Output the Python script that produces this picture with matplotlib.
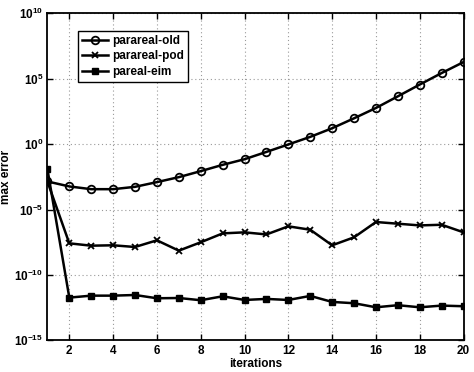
import matplotlib
matplotlib.use("Agg")
import matplotlib.pyplot as plt
import numpy as np
from matplotlib.ticker import FixedLocator, NullLocator

plt.rcParams['font.family'] = ['Liberation Sans', 'DejaVu Sans']
plt.rcParams['font.weight'] = 'bold'

iterations = list(range(1, 21))
log_old = [-2.85, -3.23, -3.44, -3.44, -3.26, -2.90, -2.52, -2.06, -1.58, -1.15,
           -0.59, -0.02, 0.56, 1.22, 1.98, 2.77, 3.66, 4.56, 5.44, 6.28]
log_pod = [-2.85, -7.58, -7.76, -7.73, -7.86, -7.35, -8.14, -7.50, -6.82, -6.74,
           -6.90, -6.28, -6.54, -7.73, -7.12, -5.95, -6.08, -6.21, -6.16, -6.74]
log_eim = [-1.90, -11.73, -11.58, -11.58, -11.53, -11.78, -11.76, -11.93, -11.63, -11.91,
           -11.83, -11.91, -11.60, -12.06, -12.16, -12.47, -12.31, -12.47, -12.34, -12.39]
labels = ['parareal-old', 'parareal-pod', 'pareal-eim']

old = 10.0 ** np.array(log_old)
pod = 10.0 ** np.array(log_pod)
eim = 10.0 ** np.array(log_eim)

fig = plt.figure(figsize=(4.74, 3.72), dpi=100)
ax = fig.add_axes([0.100, 0.085, 0.878, 0.879])

ax.plot(iterations, old, '-o', color='black', lw=1.8, ms=5.5, mfc='none', mew=1.3, label=labels[0])
ax.plot(iterations, pod, '-x', color='black', lw=1.8, ms=4, mew=1.3, label=labels[1])
ax.plot(iterations, eim, '-s', color='black', lw=1.8, ms=4.5, mfc='black', mew=1.0, label=labels[2])

ax.set_yscale('log')
ax.set_xlim(1, 20)
ax.set_ylim(1e-15, 1e10)
ax.yaxis.set_major_locator(FixedLocator([1e-15, 1e-10, 1e-5, 1e0, 1e5, 1e10]))
ax.yaxis.set_minor_locator(NullLocator())
ax.set_xticks([2, 4, 6, 8, 10, 12, 14, 16, 18, 20])

ax.grid(True, which='major', linestyle=(0, (1, 2.5)), color='#999999', lw=0.8)
ax.tick_params(direction='in', labelsize=8.5, width=1, length=4, top=True, right=True, pad=3)
for lbl in ax.get_xticklabels() + ax.get_yticklabels():
    lbl.set_fontweight('bold')
for s in ax.spines.values():
    s.set_linewidth(1.3)

ax.set_xlabel('iterations', fontsize=8.5, fontweight='bold', labelpad=1)
ax.set_ylabel('max error', fontsize=8.5, fontweight='bold')
ax.yaxis.set_label_coords(-0.085, 0.5)

leg = ax.legend(loc='upper left', bbox_to_anchor=(0.06, 0.965), fontsize=8.5,
                frameon=True, fancybox=False, edgecolor='black', framealpha=1,
                handlelength=2.2, borderpad=0.35, labelspacing=0.3, handletextpad=0.3)
leg.get_frame().set_linewidth(1.0)
for t in leg.get_texts():
    t.set_fontweight('bold')

fig.savefig('out.png', dpi=100)
